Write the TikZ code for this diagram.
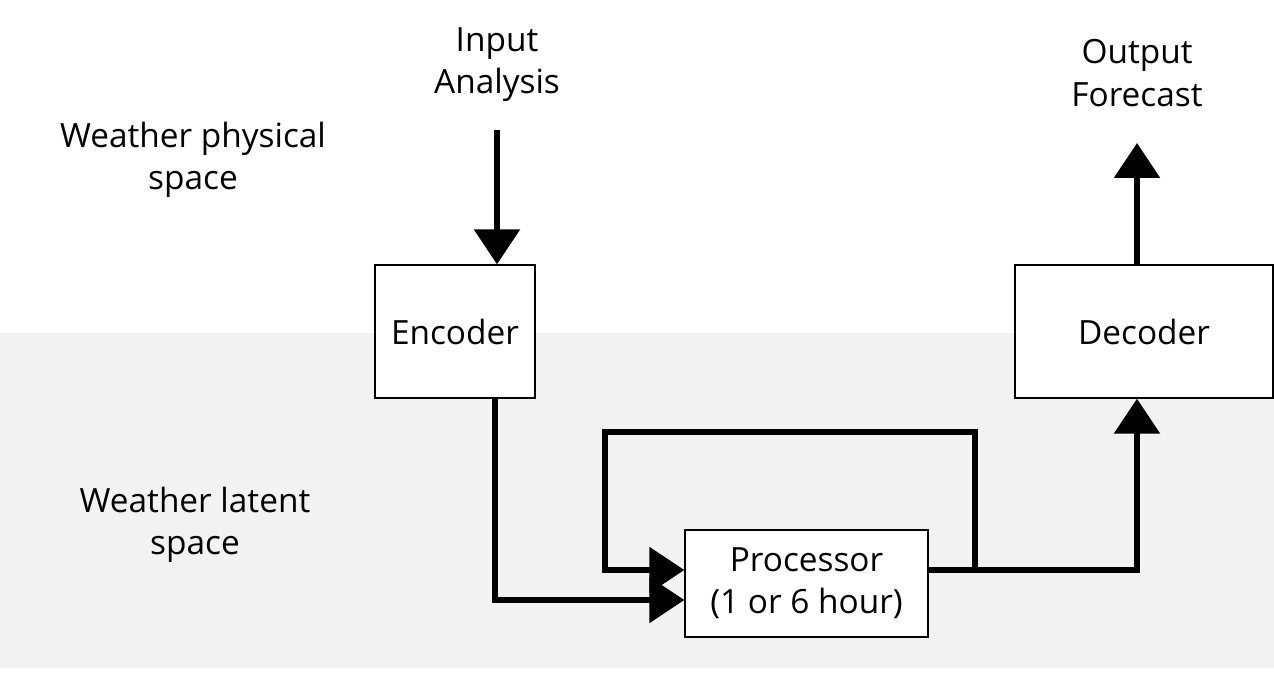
\documentclass[tikz,border=0pt]{standalone}
\usepackage{fontspec}
\setmainfont{Open Sans}
\usetikzlibrary{arrows.meta}
\usetikzlibrary{positioning}

\begin{document}
\begin{tikzpicture}[x=0.02cm, y=-0.02cm, font=\fontsize{19}{24}\selectfont,
  box/.style={draw, line width=0.8pt, fill=white, inner sep=0pt, align=center},
  flow/.style={line width=3.4pt, -{Triangle[length=0.7cm, width=0.9cm]}},
  plain/.style={line width=3.4pt}]
  % Page frame and latent band
  \useasboundingbox (0,0) rectangle (1274,678);
  \fill[gray!10] (0,333) rectangle (1274,668);

  % Space labels
  \node[align=center] (phys) at (193,160) {Weather physical\\space};
  \node[align=center] (lat) at (195,525) {Weather latent\\space};

  % Blocks
  \node[box, minimum width=160*0.02cm, minimum height=133*0.02cm] (enc) at (455,331.5) {Encoder};
  \node[box, minimum width=258*0.02cm, minimum height=133*0.02cm] (dec) at (1144,331.5) {Decoder};
  \node[box, minimum width=243*0.02cm, minimum height=107*0.02cm] (proc) at (806.5,583.5) {Processor\\(1 or 6 hour)};

  % Input and output texts
  \node[align=center] (inp) at (497,65) {Input\\Analysis};
  \node[align=center] (out) at (1137,73) {Output\\Forecast};

  % Helper points
  \coordinate (inTop) at (497,130);
  \coordinate (outTop) at (1137,143);
  \coordinate (encLow) at (495,600);
  \coordinate (split) at (975,570);
  \coordinate (loopA) at (975,432);
  \coordinate (loopB) at (605,432);
  \coordinate (loopC) at (605,570);
  \coordinate (decLow) at (1137,570);

  % Connectors
  \draw[flow] (inTop) -- (inTop |- enc.north);
  \draw[flow] (outTop |- dec.north) -- (outTop);
  \draw[flow] (encLow |- enc.south) -- (encLow) -- (encLow -| proc.west);
  \draw[plain] (split -| proc.east) -- (split);
  \draw[flow] (split) -- (loopA) -- (loopB) -- (loopC) -- (loopC -| proc.west);
  \draw[flow] (split) -- (decLow) -- (decLow |- dec.south);
\end{tikzpicture}
\end{document}
